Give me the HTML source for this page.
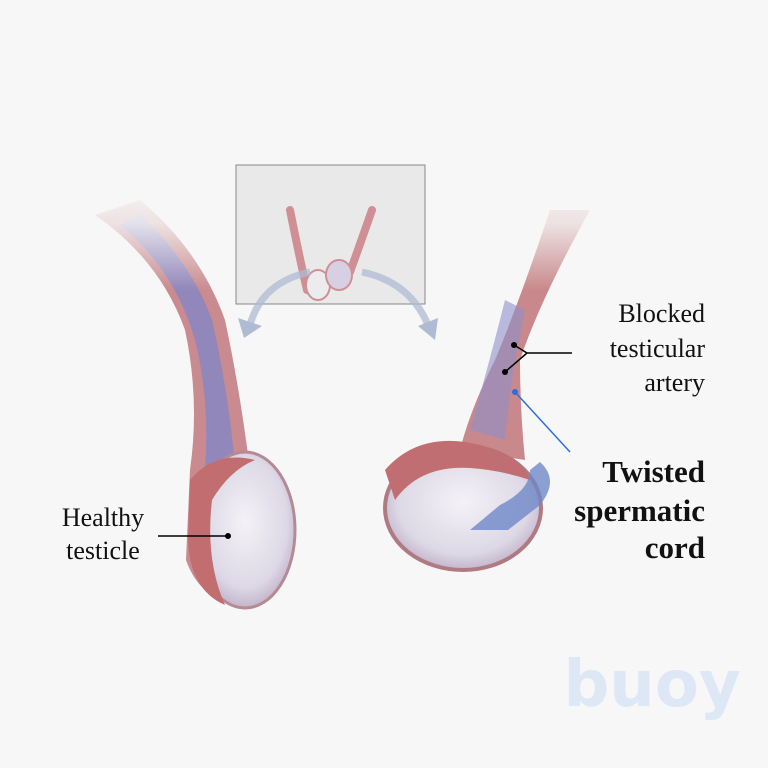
<!DOCTYPE html>
<html><head><meta charset="utf-8"><style>
body{margin:0;background:#f7f7f7}
svg{display:block}
text{font-family:"Liberation Serif",serif;fill:#111}
</style></head><body>
<svg width="768" height="768" viewBox="0 0 768 768">
<defs>
<linearGradient id="fadeL" x1="0" y1="0" x2="0" y2="1"><stop offset="0" stop-color="#f7f7f7" stop-opacity="1"/><stop offset="0.4" stop-color="#f7f7f7" stop-opacity="0.8"/><stop offset="1" stop-color="#f7f7f7" stop-opacity="0"/></linearGradient>
<radialGradient id="ball" cx="0.5" cy="0.45" r="0.6"><stop offset="0" stop-color="#f4f2f6"/><stop offset="0.7" stop-color="#ddd8e6"/><stop offset="1" stop-color="#b9a7c2"/></radialGradient>
</defs>
<rect width="768" height="768" fill="#f7f7f7"/>
<!-- left cord -->
<path d="M95 215 Q160 260 185 330 Q200 400 190 470 L186 560 Q200 600 240 605 L250 470 Q240 390 225 320 Q200 250 140 200 Z" fill="#c98b8f"/>
<path d="M120 225 Q175 270 195 340 Q210 400 205 470 L235 465 Q228 390 212 320 Q190 260 140 215 Z" fill="#7d86c8" opacity="0.75"/>
<rect x="60" y="180" width="175" height="110" fill="url(#fadeL)"/>
<ellipse cx="245" cy="530" rx="50" ry="78" fill="url(#ball)" stroke="#b58a93" stroke-width="3"/>
<path d="M190 480 Q215 450 255 460 Q230 470 212 500 Q205 560 225 605 Q190 590 188 540 Z" fill="#c26d70"/>
<!-- right cord -->
<path d="M550 210 Q520 300 495 360 Q470 410 460 450 L525 460 Q520 410 520 360 Q540 300 590 210 Z" fill="#c9898c"/>
<path d="M505 300 Q490 360 470 430 L505 440 Q510 380 525 310 Z" fill="#8d8fcc" opacity="0.6"/>
<rect x="480" y="180" width="150" height="110" fill="url(#fadeL)"/>
<ellipse cx="463" cy="508" rx="78" ry="62" fill="url(#ball)" stroke="#b07a82" stroke-width="4"/>
<path d="M385 470 Q420 430 480 445 Q520 455 530 480 Q500 470 470 468 Q420 465 395 500 Z" fill="#c06e72"/>
<path d="M540 462 Q560 480 540 505 L508 530 L470 530 L500 505 Q530 490 530 470 Z" fill="#6f88c8" opacity="0.8"/>
<!-- inset -->
<rect x="236" y="165" width="189" height="139" fill="#e9e9e9" stroke="#888" stroke-width="1"/>
<path d="M290 210 Q300 260 307 290 M372 210 Q358 250 350 272" stroke="#cf8f95" stroke-width="8" fill="none" stroke-linecap="round"/>
<ellipse cx="318" cy="285" rx="12" ry="15" fill="#ececee" stroke="#cf8f95" stroke-width="2"/>
<ellipse cx="339" cy="275" rx="13" ry="15" fill="#d8d0e2" stroke="#cf8f95" stroke-width="2"/>
<!-- curved arrows -->
<path d="M310 272 Q262 282 250 325" stroke="#aebbd3" stroke-width="7" fill="none" opacity="0.75"/>
<polygon points="238,318 244,338 262,326" fill="#aebbd3"/>
<path d="M362 272 Q410 282 428 325" stroke="#aebbd3" stroke-width="7" fill="none" opacity="0.75"/>
<polygon points="418,326 435,340 438,318" fill="#aebbd3"/>
<!-- leader lines -->
<path d="M514 345 L527 353 L572 353 M505 372 L527 353" stroke="#000" stroke-width="1.5" fill="none"/>
<circle cx="514" cy="345" r="3" fill="#000"/><circle cx="505" cy="372" r="3" fill="#000"/>
<line x1="515" y1="392" x2="570" y2="452" stroke="#2a6fe0" stroke-width="1.5"/>
<circle cx="515" cy="392" r="3" fill="#2a6fe0"/>
<line x1="158" y1="536" x2="228" y2="536" stroke="#000" stroke-width="1.5"/>
<circle cx="228" cy="536" r="3" fill="#000"/>
<!-- labels -->
<text x="705" y="322" font-size="26" text-anchor="end">Blocked</text>
<text x="705" y="357" font-size="26" text-anchor="end">testicular</text>
<text x="705" y="391" font-size="26" text-anchor="end">artery</text>
<text x="705" y="482" font-size="31" font-weight="bold" text-anchor="end">Twisted</text>
<text x="705" y="521" font-size="31" font-weight="bold" text-anchor="end">spermatic</text>
<text x="705" y="558" font-size="31" font-weight="bold" text-anchor="end">cord</text>
<text x="103" y="526" font-size="26" text-anchor="middle">Healthy</text>
<text x="103" y="559" font-size="26" text-anchor="middle">testicle</text>
<!-- logo -->
<text x="652" y="706" font-size="64" font-weight="bold" text-anchor="middle" style="font-family:'DejaVu Sans',sans-serif;fill:#dde7f6">buoy</text>
</svg>
</body></html>
